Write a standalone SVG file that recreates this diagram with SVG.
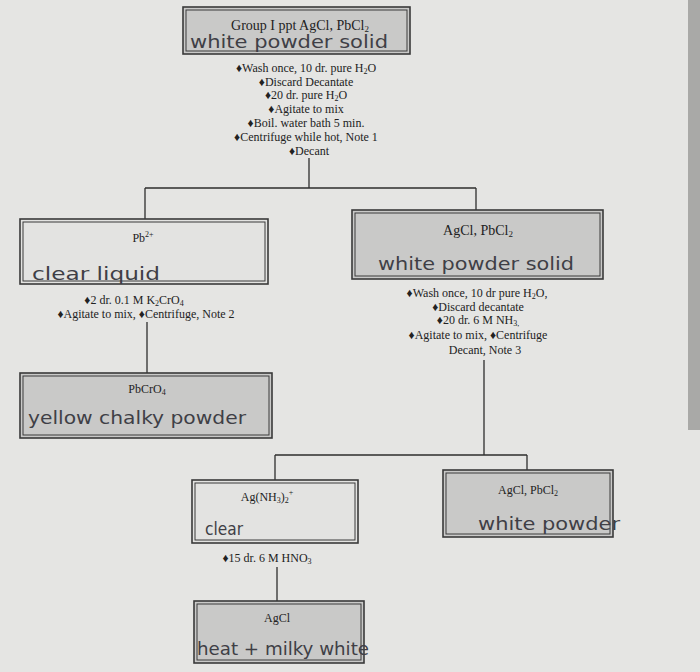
<svg xmlns="http://www.w3.org/2000/svg" width="700" height="672" viewBox="0 0 700 672">
<defs>
<style>
.bg{fill:#e5e5e3}
.gray{fill:#c9c9c8}
.page{fill:#e3e3e1}
.outer{fill:none;stroke:#3a3a3a;stroke-width:1.6}
.inner{fill:none;stroke:#3a3a3a;stroke-width:1}
.t{font-family:"Liberation Serif","Times New Roman",serif;fill:#222;text-anchor:middle}
.ti{font-size:14px}
.ins{font-size:12px}
.hw{font-family:"DejaVu Sans Condensed","DejaVu Sans",sans-serif;fill:#3f3f46;font-size:17px}
.ln{stroke:#2e2e2e;stroke-width:1.3;fill:none}
</style>
</defs>
<rect class="bg" x="0" y="0" width="700" height="672"/>
<rect x="688" y="0" width="12" height="430" fill="#a9a9a7"/>

<g id="connectors">
<path class="ln" d="M309,158 V188 M145,188 H476 M145,188 V219 M476,188 V210"/>
<path class="ln" d="M147,322 V373"/>
<path class="ln" d="M484,360 V455 M275,455 H527 M275,455 V480 M527,455 V470"/>
<path class="ln" d="M277,567 V601"/>
</g>

<g id="group1">
<rect class="gray" x="183" y="7" width="227" height="47"/>
<rect class="outer" x="183" y="7" width="227" height="47"/>
<rect class="inner" x="186" y="10" width="221" height="41"/>
<text class="t ti" x="300" y="30">Group I ppt  AgCl, PbCl<tspan dy="2" font-size="9">2</tspan></text>
<text class="hw" x="190" y="48" textLength="198" lengthAdjust="spacingAndGlyphs">white  powder  solid</text>
</g>

<g id="steps1">
<text class="t ins" x="306" y="72">♦Wash once, 10 dr. pure H<tspan dy="2" font-size="8">2</tspan><tspan dy="-2">O</tspan></text>
<text class="t ins" x="306" y="86">♦Discard Decantate</text>
<text class="t ins" x="306" y="99">♦20 dr. pure H<tspan dy="2" font-size="8">2</tspan><tspan dy="-2">O</tspan></text>
<text class="t ins" x="306" y="113">♦Agitate to mix</text>
<text class="t ins" x="306" y="127">♦Boil. water bath 5 min.</text>
<text class="t ins" x="306" y="141">♦Centrifuge while hot, Note 1</text>
<text class="t ins" x="309" y="155">♦Decant</text>
</g>

<g id="pb">
<rect class="page" x="20" y="219" width="248" height="65"/>
<rect class="outer" x="20" y="219" width="248" height="65"/>
<rect class="inner" x="23" y="222" width="242" height="59"/>
<text class="t ins" x="143" y="242">Pb<tspan dy="-5" font-size="8">2+</tspan></text>
<text class="hw" x="32" y="280" textLength="128" lengthAdjust="spacingAndGlyphs">clear   liquid</text>
</g>

<g id="agcl-pbcl2">
<rect class="gray" x="352" y="210" width="251" height="69"/>
<rect class="outer" x="352" y="210" width="251" height="69"/>
<rect class="inner" x="355" y="213" width="245" height="63"/>
<text class="t ti" x="478" y="235">AgCl, PbCl<tspan dy="2" font-size="9">2</tspan></text>
<text class="hw" x="378" y="270" textLength="196" lengthAdjust="spacingAndGlyphs">white   powder   solid</text>
</g>

<g id="steps2">
<text class="t ins" x="134" y="304">♦2 dr. 0.1 M  K<tspan dy="2" font-size="8">2</tspan><tspan dy="-2">CrO</tspan><tspan dy="2" font-size="8">4</tspan></text>
<text class="t ins" x="146" y="318">♦Agitate to mix, ♦Centrifuge, Note 2</text>
</g>

<g id="steps3">
<text class="t ins" x="477" y="297">♦Wash once, 10 dr pure H<tspan dy="2" font-size="8">2</tspan><tspan dy="-2">O,</tspan></text>
<text class="t ins" x="478" y="311">♦Discard decantate</text>
<text class="t ins" x="478" y="324">♦20 dr. 6 M NH<tspan dy="2" font-size="8">3,</tspan></text>
<text class="t ins" x="478" y="339">♦Agitate to mix, ♦Centrifuge</text>
<text class="t ins" x="485" y="354">Decant, Note 3</text>
</g>

<g id="pbcro4">
<rect class="gray" x="20" y="373" width="252" height="65"/>
<rect class="outer" x="20" y="373" width="252" height="65"/>
<rect class="inner" x="23" y="376" width="246" height="59"/>
<text class="t ins" x="147" y="393">PbCrO<tspan dy="2" font-size="8">4</tspan></text>
<text class="hw" x="28" y="424" textLength="218" lengthAdjust="spacingAndGlyphs">yellow   chalky    powder</text>
</g>

<g id="agnh3">
<rect class="page" x="192" y="480" width="166" height="63"/>
<rect class="outer" x="192" y="480" width="166" height="63"/>
<rect class="inner" x="195" y="483" width="160" height="57"/>
<text class="t ins" x="267" y="501">Ag(NH<tspan dy="2" font-size="8">3</tspan><tspan dy="-2">)</tspan><tspan dy="2" font-size="8">2</tspan><tspan dy="-8" font-size="8">+</tspan></text>
<text class="hw" x="205" y="535" textLength="38" lengthAdjust="spacingAndGlyphs">clear</text>
</g>

<g id="steps4">
<text class="t ins" x="267" y="562">♦15 dr.  6 M  HNO<tspan dy="2" font-size="8">3</tspan></text>
</g>

<g id="agcl-pbcl2-2">
<rect class="gray" x="443" y="470" width="170" height="67"/>
<rect class="outer" x="443" y="470" width="170" height="67"/>
<rect class="inner" x="446" y="473" width="164" height="61"/>
<text class="t ins" x="528" y="494" font-size="13px">AgCl, PbCl<tspan dy="2" font-size="8">2</tspan></text>
<text class="hw" x="478" y="530" textLength="142" lengthAdjust="spacingAndGlyphs">white   powder</text>
</g>

<g id="agcl">
<rect class="gray" x="194" y="601" width="170" height="62"/>
<rect class="outer" x="194" y="601" width="170" height="62"/>
<rect class="inner" x="197" y="604" width="164" height="56"/>
<text class="t ins" x="277" y="622">AgCl</text>
<text class="hw" x="197" y="655" textLength="172" lengthAdjust="spacingAndGlyphs">heat  +  milky  white</text>
</g>
</svg>
